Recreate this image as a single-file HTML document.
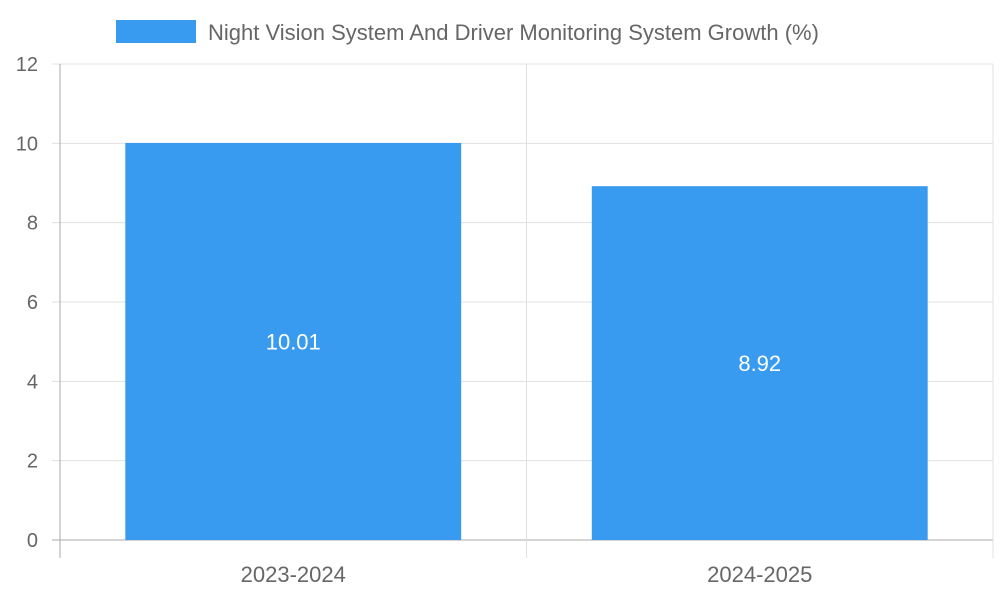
<!DOCTYPE html>
<html><head><meta charset="utf-8"><style>
body{margin:0;background:#fff;}
svg text{font-family:"Liberation Sans",sans-serif;}
</style></head><body>
<svg id="chart" width="1000" height="600" xmlns="http://www.w3.org/2000/svg">
<g id="legend">
<rect x="116" y="20" width="80" height="23" fill="#399BF0"/>
<text x="208" y="40" font-size="22" fill="#666">Night Vision System And Driver Monitoring System Growth (%)</text>
</g>
<g id="grid"></g><g id="bars"></g><g id="axes"></g>
</svg>
<script>
const categories=["2023-2024","2024-2025"];
const values=[10.01,8.92];
const yTicks=[0,2,4,6,8,10,12];
const L=60,R=993,T=64,B=540,yMax=12;
const NS="http://www.w3.org/2000/svg";
const y=v=>B-(v/yMax)*(B-T);
const cw=(R-L)/categories.length;
const x=i=>L+cw*i;
function mk(t,a,p){const e=document.createElementNS(NS,t);for(const k in a)e.setAttribute(k,a[k]);p.appendChild(e);return e;}
const grid=document.getElementById('grid'),bars=document.getElementById('bars'),axes=document.getElementById('axes');
yTicks.forEach(t=>{
 const l=mk('line',{x1:L-8,x2:R,y1:y(t),y2:y(t),stroke:t===0?'#aaa':'#e0e0e0','stroke-width':1},grid);
 
 
 const tx=mk('text',{x:L-22,y:y(t)+7,'font-size':20,fill:'#666','text-anchor':'end'},axes);
 tx.textContent=t;
 
 
});
for(let i=0;i<=categories.length;i++){
 const l=mk('line',{x1:x(i),x2:x(i),y1:T,y2:B+18,stroke:i===0?'#aaa':'#e0e0e0','stroke-width':1},grid);
 
 
}
categories.forEach((c,i)=>{
 const bw=cw*0.72,bx=x(i)+(cw-bw)/2;
 const r=mk('rect',{x:bx,y:y(values[i]),width:bw,height:B-y(values[i]),fill:'#399BF0'},bars);
 
 
 const v=mk('text',{x:x(i)+cw/2,y:(y(values[i])+B)/2+8,'font-size':22,fill:'#fff','text-anchor':'middle'},bars);
 v.textContent=values[i].toFixed(2);
 
 
 const t=mk('text',{x:x(i)+cw/2,y:582,'font-size':22,fill:'#666','text-anchor':'middle'},axes);
 t.textContent=c;
 
 
});
</script>
</body></html>
